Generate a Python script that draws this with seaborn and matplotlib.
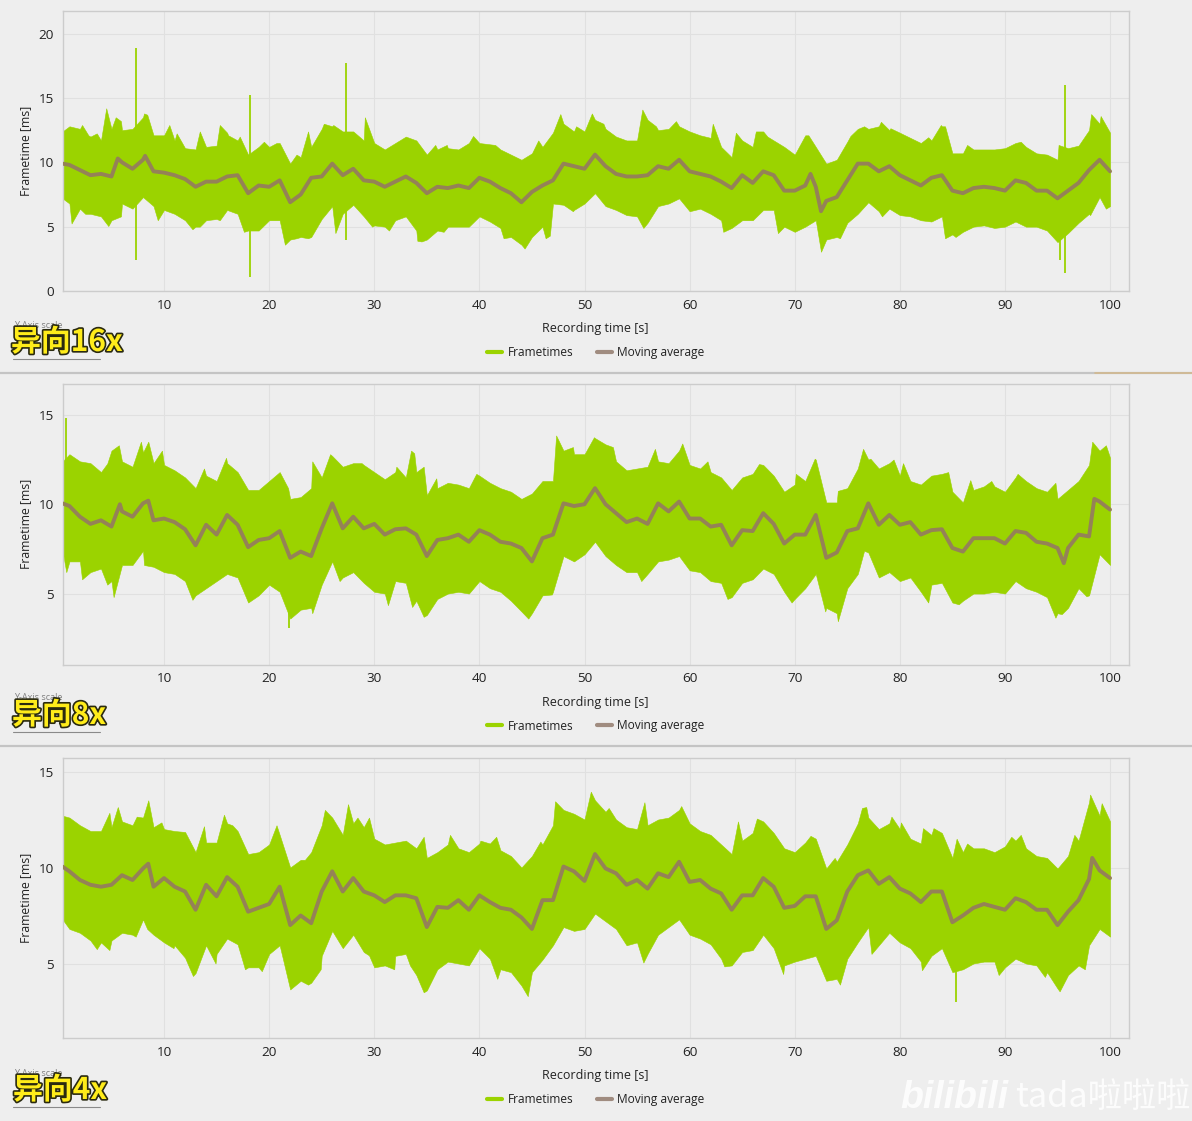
import numpy as np
import pandas as pd
import seaborn as sns
import matplotlib
matplotlib.use("Agg")
import matplotlib.pyplot as plt
import matplotlib.patheffects as pe
from matplotlib.lines import Line2D

seconds = [0.34] + list(range(1, 101))

hi_16x = [12.4,12.8,12.6,12.0,11.7,12.6,12.5,12.6,13.5,12.1,12.1,11.7,11.1,11.0,11.2,11.3,12.3,11.7,10.6,11.2,11.2,11.5,9.9,10.4,11.2,12.6,12.8,12.4,12.4,11.7,11.5,11.0,11.5,
 12.0,11.7,10.6,11.0,11.1,11.0,11.5,11.5,11.4,11.0,10.6,10.2,10.7,11.2,12.3,13.0,12.4,12.4,13.3,12.6,12.0,11.7,11.7,13.3,12.5,12.6,12.8,12.4,12.1,11.9,11.2,10.4,11.7,11.2,12.4,11.7,11.2,10.6,
 12.1,11.2,9.9,10.2,11.6,12.6,12.6,12.8,12.5,12.3,11.9,11.5,11.7,12.8,10.7,10.7,11.0,11.0,11.0,11.1,11.5,11.2,10.7,10.6,10.2,11.1,11.3,12.5,13.0,12.3]
lo_16x = [7.2,6.8,6.4,6.0,5.8,5.5,6.8,6.4,7.3,6.6,6.3,6.0,5.5,5.0,5.5,5.6,6.3,6.0,4.7,4.7,5.5,5.5,4.0,4.2,4.2,5.6,6.6,6.0,6.7,5.8,5.1,5.0,5.5,
 5.8,4.7,4.0,4.7,5.0,5.0,5.0,5.8,5.4,4.9,4.2,3.6,4.2,5.0,6.8,6.7,6.3,6.8,7.6,6.6,6.3,5.9,5.8,5.3,6.6,6.8,7.2,6.2,6.4,6.0,5.5,4.9,5.5,5.5,6.3,6.3,5.0,4.6,
 5.0,5.5,4.0,4.2,5.3,6.0,6.9,6.2,6.4,5.9,5.8,5.5,5.4,5.8,4.4,4.6,5.0,5.1,4.9,5.0,5.4,5.0,5.0,4.7,3.8,4.5,5.3,6.0,7.3,6.6]
avg_16x = [9.9,9.8,9.4,9.0,9.1,8.9,10.0,9.5,10.2,9.3,9.2,9.0,8.7,8.1,8.5,8.5,8.9,9.0,7.6,8.2,8.1,8.6,6.9,7.5,8.8,8.9,9.9,9.0,9.5,8.6,8.5,8.1,8.5,
 8.9,8.4,7.6,8.1,8.0,8.2,8.0,8.8,8.5,8.0,7.6,6.9,7.7,8.2,8.6,9.9,9.7,9.5,10.6,9.7,9.1,8.9,8.9,9.0,9.7,9.5,10.2,9.3,9.1,8.9,8.5,8.0,9.0,8.4,9.3,9.0,7.8,7.8,
 8.2,8.1,7.0,7.3,8.6,9.9,9.9,9.3,9.7,9.0,8.6,8.2,8.8,9.0,7.8,7.6,8.0,8.1,8.0,7.8,8.6,8.4,7.8,7.8,7.2,7.8,8.4,9.4,10.2,9.3]

hi_8x = [12.4,12.8,12.4,12.3,11.8,12.6,12.4,12.1,12.9,12.3,12.2,11.9,11.5,10.9,11.6,11.3,12.3,11.8,10.8,10.8,11.3,11.5,10.3,10.4,10.9,11.5,12.7,12.1,12.3,12.2,11.8,11.4,11.8,
 11.5,11.8,10.5,10.9,11.2,11.1,10.9,11.6,11.2,10.9,10.7,10.3,10.6,11.3,11.3,13.0,12.8,12.8,13.7,13.1,12.4,11.9,12.0,12.1,12.4,12.3,13.0,12.2,12.0,11.8,11.5,10.8,11.5,11.7,12.2,11.6,10.7,11.1,
 11.3,12.5,10.1,10.1,10.9,12.0,12.5,12.0,12.3,11.6,11.3,11.1,11.6,11.7,10.7,10.1,10.8,11.0,11.0,10.7,11.5,11.3,10.9,10.7,10.3,10.8,11.3,12.2,13.0,12.6]
lo_8x = [7.4,6.8,6.8,6.2,6.4,5.7,6.6,6.6,7.4,6.5,6.2,6.1,5.7,4.9,5.3,5.7,6.1,5.9,4.7,4.9,5.5,5.1,3.6,4.1,4.2,5.5,6.8,5.9,6.2,5.6,5.1,5.0,5.7,
 5.6,4.6,3.8,4.7,5.0,5.1,5.0,5.7,5.3,5.1,4.6,4.0,3.9,4.9,5.1,7.1,6.8,7.2,7.9,7.1,6.6,6.2,6.2,6.1,6.8,6.9,7.1,6.3,6.2,5.7,5.6,4.8,5.6,5.8,6.4,6.1,5.1,4.7,
 5.3,6.1,4.2,3.9,5.3,6.1,7.3,5.9,6.2,5.7,5.9,5.1,5.5,5.6,4.5,4.6,5.0,5.0,5.1,5.0,5.7,5.3,5.1,4.8,3.9,4.2,5.3,4.9,7.2,6.6]
avg_8x = [10.05,9.9,9.3,8.9,9.1,8.75,9.6,9.3,10.05,9.1,9.2,9.0,8.6,7.7,8.85,8.3,9.4,8.85,7.6,8.0,8.1,8.5,7.0,7.35,7.1,8.65,10.05,8.65,9.3,8.65,8.9,8.3,8.6,
 8.65,8.3,7.1,8.0,8.1,8.3,7.9,8.55,8.3,7.9,7.8,7.55,6.8,8.1,8.3,10.05,9.9,10.0,10.9,10.0,9.5,9.0,9.2,8.9,10.05,9.6,10.15,9.2,9.2,8.75,8.85,7.7,8.55,8.5,9.5,8.9,7.8,8.3,
 8.3,9.4,7.0,7.3,8.5,8.65,10.05,8.85,9.4,8.85,9.0,8.3,8.55,8.6,7.55,7.35,8.1,8.1,8.1,7.8,8.5,8.4,7.9,7.8,7.55,7.55,8.3,8.2,10.15,9.7]

hi_4x = [12.7,12.6,12.2,11.9,11.9,12.1,12.4,12.2,12.6,12.1,12.0,11.9,11.5,10.8,11.3,11.3,12.3,11.9,10.7,10.8,11.2,11.7,10.0,10.4,10.8,12.2,12.6,11.7,12.3,12.1,11.5,11.2,11.3,
 11.4,11.0,10.5,10.8,11.2,11.0,10.8,11.25,11.25,10.9,10.6,10.0,10.6,11.2,12.2,12.7,12.3,12.5,13.5,12.9,12.5,12.1,12.0,12.2,12.5,12.6,13.0,12.3,11.9,11.7,11.2,10.7,11.4,11.8,12.4,11.8,11.0,10.8,
 11.3,11.5,9.95,10.3,11.2,12.3,12.6,12.0,12.3,12.0,11.5,11.25,11.7,11.8,10.5,10.8,11.0,11.0,10.8,11.1,11.4,11.0,10.6,10.5,9.95,10.6,11.4,13.4,12.7,12.4]
lo_4x = [7.3,6.8,6.6,6.2,6.1,6.2,6.6,6.5,7.3,6.5,6.1,5.95,5.3,4.5,5.95,5.5,6.3,6.0,4.8,4.8,5.5,5.95,3.9,4.1,4.0,5.4,6.7,5.8,6.5,5.6,5.25,4.9,5.4,
 5.5,4.4,3.6,4.7,5.1,5.0,4.9,5.8,5.25,4.7,4.55,3.9,4.55,5.2,5.95,6.9,6.7,6.8,7.6,7.2,6.8,5.95,6.1,5.5,6.5,6.9,7.3,6.5,6.3,6.0,5.25,4.9,5.6,5.7,6.5,5.8,4.9,5.1,
 5.25,5.4,4.1,4.2,5.25,6.1,6.9,5.95,6.6,6.1,5.8,5.1,5.4,5.8,4.55,4.7,5.0,5.1,5.1,4.8,5.25,5.0,4.9,4.55,3.7,4.4,4.9,5.95,6.8,6.4]
avg_4x = [10.05,9.8,9.35,9.1,9.0,9.1,9.6,9.35,9.95,9.0,9.45,9.0,8.75,7.8,9.1,8.5,9.5,9.0,7.7,7.9,8.1,9.0,7.0,7.5,7.1,8.75,9.8,8.75,9.45,8.75,8.55,8.2,8.55,
 8.55,8.4,6.9,7.95,7.9,8.3,7.8,8.55,8.2,7.9,7.8,7.4,6.8,8.3,8.3,10.05,9.8,9.3,10.7,9.95,9.7,9.1,9.35,8.9,9.7,9.5,10.3,9.25,9.35,8.9,8.65,7.8,8.55,8.55,9.45,9.0,7.9,8.0,
 8.5,8.5,6.8,7.25,8.75,9.6,9.85,9.15,9.5,8.9,8.65,8.2,8.75,8.75,7.15,7.5,7.9,8.1,7.95,7.8,8.4,8.2,7.8,7.8,7.0,7.7,8.3,9.4,9.85,9.45]

# local peaks and dips of the band between whole seconds
peak_t_16x = [2.2,2.8,3.6,4.5,5.4,5.9,8.1,8.4,10.5,11.2,13.4,15.3,16.1,17.2,19.5,20.7,22.6,23.7,25.2,26.1,29.1,35.8,36.9,39.4,41.5,45.6,47.7,49.2,50.7,51.8,55.5,56.8,58.7,62.2,64.4,66.3,67.4,71.3,75.3,76.6,78.2,79.1,82.7,83.9,84.3,86.4,91.5,95.1,98.2,99.1]
peak_v_16x = [12.9,12.1,12.25,14.2,13.5,13.2,13.8,13.7,12.9,12.25,12.4,12.9,12.1,12.0,11.6,11.5,10.6,12.4,13.0,12.9,13.5,11.35,11.35,12.05,11.35,11.7,13.75,12.8,13.8,13.0,14.1,12.8,13.2,13.0,12.3,12.4,12.0,12.1,12.05,12.8,13.15,12.65,11.95,12.9,12.8,11.35,11.6,11.35,13.75,13.6]
dip_t_16x = [1.2,2.5,4.7,5.9,9.4,12.7,13.4,15.3,17.6,21.5,22.6,23.7,26.3,29.8,31.4,34.1,34.5,36.6,42.3,44.3,46.3,46.7,48.9,55.6,63.2,68.4,72.5,74.3,78.3,84.3,85.3,98.1,99.6]
dip_v_16x = [5.25,6.0,5.05,5.8,5.5,4.8,5.0,5.5,4.6,3.6,4.1,4.1,4.5,5.0,4.7,3.9,3.85,4.6,4.1,3.3,4.1,4.3,6.2,4.9,4.6,4.5,3.05,4.1,5.8,4.1,4.2,5.9,6.4]

peak_t_8x = [5.0,5.7,7.8,8.5,9.8,13.8,15.9,21.0,21.8,24.1,25.8,28.8,32.1,33.5,33.8,34.7,35.9,39.7,47.3,48.9,50.9,52.0,52.7,56.7,59.3,61.7,66.6,70.1,71.9,74.1,76.5,77.2,79.4,80.3,84.6,86.7,88.7,91.2,94.8,98.3,99.6]
peak_v_8x = [13.0,13.3,13.5,13.5,13.0,12.0,12.6,11.8,10.9,12.4,12.8,12.3,12.1,13.0,12.85,12.1,11.45,11.7,13.85,13.2,13.75,13.35,13.2,13.1,13.4,12.4,12.25,11.7,12.55,10.75,13.1,12.55,12.5,12.3,11.8,11.35,11.3,11.7,11.2,13.5,13.3]
dip_t_8x = [0.7,2.2,4.6,5.2,8.1,12.7,18.0,24.1,26.7,31.3,33.6,34.7,43.5,44.65,46.9,55.4,63.6,69.7,72.9,74.1,76.6,82.7,85.6,94.8,95.4,97.75]
dip_v_8x = [6.2,5.8,5.5,4.8,6.6,4.65,4.5,3.9,5.7,4.35,4.25,3.7,4.3,3.6,4.95,5.7,4.7,4.5,4.0,3.45,7.4,4.5,4.4,3.65,3.85,4.85]

peak_t_4x = [4.8,5.6,7.4,8.5,9.75,12.0,13.8,15.7,16.5,20.7,23.4,25.3,27.5,28.4,29.5,34.7,37.2,40.1,41.6,45.8,47.2,48.0,49.0,50.6,52.3,55.7,59.2,64.6,66.4,71.5,73.8,76.4,76.8,79.2,80.1,82.2,83.2,85.4,86.4,90.6,91.5,96.6,98.1,99.2]
peak_v_4x = [12.85,13.15,12.65,13.5,12.35,11.85,12.15,12.75,12.2,12.2,10.4,13.0,13.3,12.6,12.6,11.6,11.7,11.4,11.6,11.35,13.45,13.0,12.8,13.95,13.1,13.4,13.2,12.4,12.55,11.65,10.5,13.1,13.15,12.65,12.35,12.05,12.05,11.5,11.25,11.6,11.7,11.7,13.8,13.35]
dip_t_4x = [3.6,4.8,7.3,8.4,10.9,12.75,14.9,17.7,19.3,22.0,23.7,24.9,30.0,31.9,33.4,34.7,41.7,44.0,44.6,55.6,63.3,68.9,74.3,77.3,82.1,89.4,93.8,95.2,97.6]
dip_v_4x = [5.75,5.7,6.4,6.8,5.8,4.35,5.0,4.7,4.6,3.65,3.9,4.7,4.8,4.7,4.9,3.5,4.2,3.85,3.3,5.05,4.85,4.45,3.9,5.5,4.65,4.4,4.3,3.55,4.7]

# moving-average turning points between whole seconds
turn_t_16x = [5.6,8.2,71.5,72.5]
turn_v_16x = [10.3,10.5,9.1,6.2]
turn_t_8x = [5.8,8.5,95.6,98.5]
turn_v_8x = [10.0,10.2,6.7,10.3]
turn_t_4x = [8.5,98.3]
turn_v_4x = [10.2,10.5]

# isolated single-frame outliers
spike_t_16x = [7.3,18.2,27.3,95.7,95.2]
spike_a_16x = [2.4,1.1,4.0,1.4,2.4]
spike_b_16x = [18.9,15.2,17.7,16.0,8.0]
spike_t_8x = [0.7,21.9]
spike_a_8x = [9.0,3.05]
spike_b_8x = [14.8,9.0]
spike_t_4x = [85.3]
spike_a_4x = [3.0]
spike_b_4x = [8.0]

panel_titles = ["异向16x", "异向8x", "异向4x"]
y_ticks = [[0, 5, 10, 15, 20], [5, 10, 15], [5, 10, 15]]
x_ticks = [10, 20, 30, 40, 50, 60, 70, 80, 90, 100]

W, H = 1192, 1121
BG = "#eeeeee"
GREEN = "#9bd300"
AVG = "#958257"
LEG_AVG = "#a08c80"
TXT = "#222222"

sns.set_theme(style="white")
plt.rcParams["font.family"] = ["Open Sans", "DejaVu Sans"]

fig = plt.figure(figsize=(W / 100, H / 100), dpi=100, facecolor=BG)


def merged(base_t, base_v, extra_t, extra_v):
    order = np.argsort(np.r_[base_t, extra_t], kind="stable")
    return np.r_[base_t, extra_t][order], np.r_[base_v, extra_v][order]


panels = [
    dict(top=10.5, bot=291, ylim=(0.0, 21.8), hi=hi_16x, lo=lo_16x, avg=avg_16x, pt=peak_t_16x, pv=peak_v_16x, dt=dip_t_16x, dv=dip_v_16x, tt=turn_t_16x, tv=turn_v_16x, st=spike_t_16x, sa=spike_a_16x, sb=spike_b_16x, lx=11, ly=342, sep=373),
    dict(top=384, bot=664.5, ylim=(1.03, 16.73), hi=hi_8x, lo=lo_8x, avg=avg_8x, pt=peak_t_8x, pv=peak_v_8x, dt=dip_t_8x, dv=dip_v_8x, tt=turn_t_8x, tv=turn_v_8x, st=spike_t_8x, sa=spike_a_8x, sb=spike_b_8x, lx=12, ly=715, sep=746),
    dict(top=757.5, bot=1038, ylim=(1.12, 15.73), hi=hi_4x, lo=lo_4x, avg=avg_4x, pt=peak_t_4x, pv=peak_v_4x, dt=dip_t_4x, dv=dip_v_4x, tt=turn_t_4x, tv=turn_v_4x, st=spike_t_4x, sa=spike_a_4x, sb=spike_b_4x, lx=13, ly=1090, sep=None),
]
LEFT, RIGHT = 62.5, 1129

for p, title, yt in zip(panels, panel_titles, y_ticks):
    ax = fig.add_axes([LEFT / W, 1 - p["bot"] / H, (RIGHT - LEFT) / W, (p["bot"] - p["top"]) / H])
    ax.set_facecolor(BG)
    hx, hy = merged(seconds, p["hi"], p["pt"], p["pv"])
    lx, ly = merged(seconds, p["lo"], p["dt"], p["dv"])
    grid_t = np.unique(np.r_[hx, lx])
    ax.fill_between(grid_t, np.interp(grid_t, lx, ly), np.interp(grid_t, hx, hy), color=GREEN, lw=0.4, zorder=2)
    ax.vlines(p["st"], p["sa"], p["sb"], color=GREEN, lw=1.3, zorder=2)
    at, av = merged(seconds, p["avg"], p["tt"], p["tv"])
    frame = pd.DataFrame({"t": at, "avg": av})
    sns.lineplot(data=frame, x="t", y="avg", ax=ax, color=AVG, lw=2.8, legend=False, estimator=None, zorder=3)
    ax.set_xlim(0.34, 101.8)
    ax.set_ylim(*p["ylim"])
    ax.set_xticks(x_ticks)
    ax.set_yticks(yt)
    ax.grid(True, color="#e0e0e0", lw=0.8)
    ax.set_axisbelow(True)
    ax.tick_params(length=0, labelsize=9.7, labelcolor=TXT, pad=6)
    ax.tick_params(axis="x", pad=5.5)
    ax.set_xlabel("Recording time [s]", fontsize=9.0, color=TXT, labelpad=7.5)
    ax.set_ylabel("Frametime [ms]", fontsize=8.8, color=TXT, labelpad=5)
    for s in ax.spines.values():
        s.set_color("#cccccc")
        s.set_linewidth(1.0)
        s.set_visible(True)

    leg_y = p["bot"] + 61.5
    handles = [Line2D([], [], color=GREEN, lw=3), Line2D([], [], color=LEG_AVG, lw=3)]
    fig.legend(handles, ["Frametimes", "Moving average"], ncol=2, frameon=False,
               loc="center", bbox_to_anchor=(596 / W, 1 - leg_y / H), fontsize=8.6,
               handlelength=1.25, handletextpad=0.45, columnspacing=2.0,
               labelcolor=TXT)

    fig.text(14 / W, 1 - (p["ly"] - 17) / H, "Y-Axis scale", fontsize=6.6, color="#808080", va="center")
    fig.add_artist(Line2D([13 / W, 100 / W], [1 - (p["ly"] + 17) / H] * 2, color="#8a8a8a", lw=0.8))
    fig.text(p["lx"] / W, 1 - p["ly"] / H, title, fontsize=21.5, fontweight="bold", color="#ffec1a",
             family=["Noto Sans CJK SC", "DejaVu Sans"], va="center",
             path_effects=[pe.withStroke(linewidth=2.4, foreground="#2a2a10")])

    if p["sep"]:
        y = 1 - p["sep"] / H
        fig.add_artist(Line2D([0, 1], [y, y], color="#c4c4c4", lw=1.6))

fig.add_artist(Line2D([1095 / W, 1], [1 - 373 / H] * 2, color="#d2b98e", lw=1.2))

fig.text(900 / W, 1 - 1098 / H, "bilibili", fontsize=27, fontweight="bold", fontstyle="italic",
         color="white", alpha=0.85, va="center", family=["Liberation Sans", "DejaVu Sans"])
fig.text(1015 / W, 1 - 1098 / H, "tada啦啦啦", fontsize=24.7, color="white", alpha=0.85, va="center",
         family=["Noto Sans CJK SC", "DejaVu Sans"])

fig.savefig("out.png", dpi=100, facecolor=BG)
